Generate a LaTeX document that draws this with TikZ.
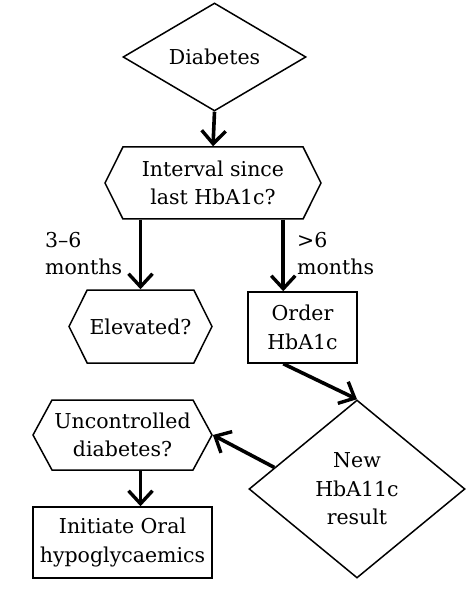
\documentclass[tikz,border=0pt]{standalone}
\usepackage{fontspec}
\setmainfont{DejaVu Serif}
\usetikzlibrary{shapes.geometric,shapes.symbols,arrows.meta,calc}
\begin{document}
\begin{tikzpicture}[x=1pt,y=-1pt,
  flow/.style={line width=3.6pt,-{Straight Barb[length=13pt,width=24pt,line width=3.4pt]}},
  box/.style={draw,line width=1.5pt,align=center,inner sep=0pt,font=\fontsize{20.5}{28.5}\selectfont},
  hexa/.style={box,signal,signal to=west and east,signal pointer angle=#1},
  dia/.style={box,diamond}]
\useasboundingbox (0,0) rectangle (474,609);

\node[dia,minimum width=183pt,minimum height=108pt] (diab) at (214.5,57) {Diabetes};
\node[hexa=127,minimum width=216pt,minimum height=72pt] (interval) at (213,183) {Interval since\\last HbA1c?};
\node[hexa=127,minimum width=143pt,minimum height=73pt] (elev) at (140.5,326.5) {Elevated?};
\node[box,minimum width=109pt,minimum height=71pt] (order) at (302.5,327.5) {Order\\HbA1c};
\node[dia,minimum width=216pt,minimum height=178pt] (new) at (357,489) {New\\HbA11c\\result};
\node[hexa=123,minimum width=179pt,minimum height=70pt] (unctrl) at (122.5,435) {Uncontrolled\\diabetes?};
\node[box,minimum width=179pt,minimum height=71pt] (init) at (122.5,542.5) {Initiate Oral\\hypoglycaemics};

\node[align=left,anchor=north west,inner sep=0pt,font=\fontsize{20.5}{27}\selectfont] (lshort) at (45,232) {3–6\\months};
\node[align=left,anchor=north west,inner sep=0pt,font=\fontsize{20.5}{27}\selectfont] (llong) at (297,232) {>6\\months};

\draw[flow] (diab.south) -- (interval.north);
\draw[flow] (interval.south -| elev.north) -- (elev.north);
\draw[flow] ([xshift=36pt]order.north west |- interval.south) -- ([xshift=36pt]order.north west);
\draw[flow] ([xshift=36pt]order.south west) -- (new.north);
\draw[flow] ($(new.west)!0.24!(new.north)$) -- (unctrl.east);
\draw[flow] ([xshift=18pt]unctrl.south) -- ([xshift=18pt]init.north);
\end{tikzpicture}
\end{document}
